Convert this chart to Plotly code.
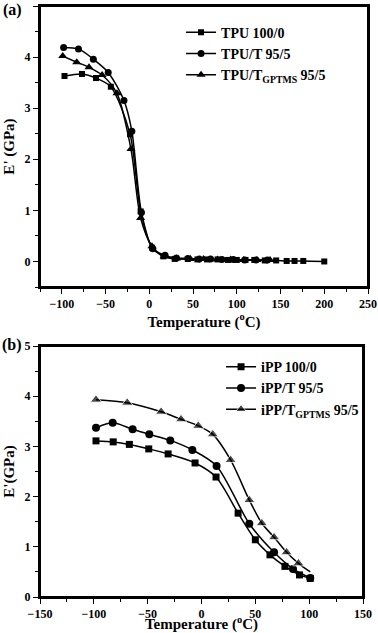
import plotly.graph_objects as go

# ---------------- Panel (a): TPU ----------------
tpu0_x = [-97, -77, -61, -44, -22, -10, 3, 16, 29, 44, 55, 66, 78, 90, 100, 110, 120, 132, 145, 157, 166, 176, 200]
tpu0_y = [3.63, 3.67, 3.59, 3.42, 2.49, 0.98, 0.27, 0.10, 0.05, 0.05, 0.04, 0.04, 0.04, 0.03, 0.03, 0.03, 0.03, 0.02, 0.02, 0.01, 0.01, 0.01, 0.00]

tput_x = [-98, -81, -64, -47, -29, -20, -9, 4, 18, 31, 44, 57, 70, 83, 96, 109, 122, 135]
tput_y = [4.19, 4.16, 3.96, 3.70, 3.15, 2.55, 0.96, 0.25, 0.12, 0.07, 0.06, 0.05, 0.05, 0.04, 0.04, 0.03, 0.03, 0.03]

tpug_x = [-99, -83, -69, -54, -37, -21, -10, 3, 17, 31, 47, 62, 78, 93, 108, 123, 138]
tpug_y = [4.02, 3.90, 3.80, 3.65, 3.29, 2.20, 0.85, 0.30, 0.10, 0.06, 0.05, 0.05, 0.04, 0.04, 0.03, 0.03, 0.03]

# ---------------- Panel (b): iPP ----------------
ipp0_x = [-98, -82, -67, -49, -31, -6, 13.5, 34, 50, 63.6, 77.5, 91, 101]
ipp0_y = [3.11, 3.09, 3.04, 2.95, 2.85, 2.67, 2.39, 1.67, 1.14, 0.84, 0.61, 0.44, 0.37]

ippt_x = [-98, -82.5, -64, -48.5, -29, -8.5, 14, 44.4, 67.4, 85, 101]
ippt_y = [3.37, 3.47, 3.34, 3.24, 3.12, 2.93, 2.61, 1.46, 0.89, 0.56, 0.38]

ippg_x = [-98, -69, -37.5, -19, -3, 10.5, 27, 44.4, 56, 67.4, 79, 90, 101]
ippg_y = [3.93, 3.87, 3.69, 3.54, 3.41, 3.24, 2.73, 1.93, 1.47, 1.19, 0.89, 0.67, 0.50]

names_a = ["TPU 100/0", "TPU/T 95/5", "TPU/T<sub>GPTMS</sub> 95/5"]
names_b = ["iPP 100/0", "iPP/T 95/5", "iPP/T<sub>GPTMS</sub> 95/5"]

FONT = "Liberation Serif"
fig = go.Figure()

line = dict(color="black", width=1.5, shape="spline", smoothing=0.8)

fig.add_trace(go.Scatter(x=tpu0_x, y=tpu0_y, name=names_a[0], mode="lines+markers",
                         line=line, marker=dict(symbol="square", size=6, color="black"),
                         xaxis="x", yaxis="y", legend="legend"))
fig.add_trace(go.Scatter(x=tput_x, y=tput_y, name=names_a[1], mode="lines+markers",
                         line=line, marker=dict(symbol="circle", size=7, color="black"),
                         xaxis="x", yaxis="y", legend="legend"))
fig.add_trace(go.Scatter(x=tpug_x, y=tpug_y, name=names_a[2], mode="lines+markers",
                         line=line, marker=dict(symbol="triangle-up", size=8, color="black"),
                         xaxis="x", yaxis="y", legend="legend"))

fig.add_trace(go.Scatter(x=ipp0_x, y=ipp0_y, name=names_b[0], mode="lines+markers",
                         line=line, marker=dict(symbol="square", size=7, color="black"),
                         xaxis="x2", yaxis="y2", legend="legend2"))
fig.add_trace(go.Scatter(x=ippt_x, y=ippt_y, name=names_b[1], mode="lines+markers",
                         line=line, marker=dict(symbol="circle", size=8, color="black"),
                         xaxis="x2", yaxis="y2", legend="legend2"))
g_sizes = [10] * (len(ippg_x) - 1) + [0]
fig.add_trace(go.Scatter(x=ippg_x, y=ippg_y, name=names_b[2], mode="lines+markers",
                         line=line, marker=dict(symbol="triangle-up", size=g_sizes, color="black"),
                         xaxis="x2", yaxis="y2", legend="legend2"))

tickfont = dict(family=FONT, size=12, color="black", weight="bold")
titlefont = dict(family=FONT, size=15, color="black", weight="bold")

def ax(title, standoff, **kw):
    d = dict(showgrid=False, zeroline=False, automargin=False,
             showline=True, linewidth=2, linecolor="black", mirror=True,
             ticks="outside", ticklen=5, tickwidth=1.3, tickcolor="black",
             tickfont=tickfont,
             title=dict(text=title, font=titlefont, standoff=standoff),
             minor=dict(ticks="outside", ticklen=3, tickwidth=1.2, tickcolor="black"))
    d.update(kw)
    return d

fig.update_layout(
    template="none",
    width=378, height=633,
    margin=dict(l=40, r=10, t=6, b=36),
    paper_bgcolor="white", plot_bgcolor="white",
    xaxis=ax("Temperature (<sup>o</sup>C)", 2, domain=[0, 1], range=[-125, 250], dtick=50, tick0=0,
             anchor="y", minor_dtick=25),
    yaxis=ax("E' (GPa)", 6, domain=[0.5245, 1], range=[-0.5, 5], dtick=1, tick0=0,
             anchor="x", minor_dtick=0.5),
    xaxis2=ax("Temperature (<sup>o</sup>C)", 0, domain=[0, 0.9848], range=[-150, 150], dtick=50,
              tick0=0, anchor="y2", minor_dtick=25),
    yaxis2=ax("E'(GPa)", 6, domain=[0, 0.4247], range=[0, 5], dtick=1, tick0=0,
              anchor="x2", minor_dtick=0.5),
    legend=dict(x=0.43, y=0.982, xanchor="left", yanchor="top", bgcolor="rgba(0,0,0,0)",
                font=dict(family=FONT, size=14, color="black", weight="bold"),
                tracegroupgap=0),
    legend2=dict(x=0.552, y=0.416, xanchor="left", yanchor="top", bgcolor="rgba(0,0,0,0)",
                 font=dict(family=FONT, size=14, color="black", weight="bold"),
                 tracegroupgap=0),
    showlegend=True,
)

# plot frames (box around each panel)
for xr, yr in (("x", "y"), ("x2", "y2")):
    fig.add_shape(type="rect", xref=f"{xr} domain", yref=f"{yr} domain",
                  x0=0, x1=1, y0=0, y1=1, line=dict(color="black", width=2),
                  fillcolor="rgba(0,0,0,0)", layer="above")

fig.add_annotation(text="(a)", x=-0.085, y=0.994, xref="paper", yref="paper",
                   xanchor="center", yanchor="middle", showarrow=False,
                   font=dict(family=FONT, size=16, color="black", weight="bold"))
fig.add_annotation(text="(b)", x=-0.085, y=0.4247 + 0.002, xref="paper", yref="paper",
                   xanchor="center", yanchor="middle", showarrow=False,
                   font=dict(family=FONT, size=16, color="black", weight="bold"))

fig.write_html("out.html", config={"displayModeBar": False},
               post_script="document.body.style.margin='0';")
